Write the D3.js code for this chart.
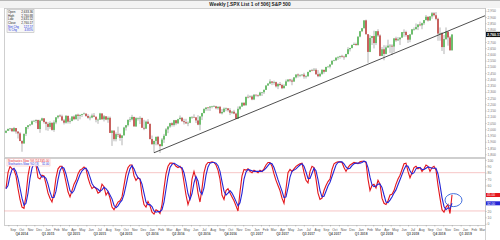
<!DOCTYPE html>
<html>
<head>
<meta charset="utf-8">
<script src="https://cdn.jsdelivr.net/npm/d3@7"></script>
<style>
body { margin: 0; background: #fff; }
svg { display: block; font-family: "Liberation Sans", Arial, sans-serif; }
</style>
</head>
<body>
<script>
// weekly S&P 500 candles, first week ends Fri 22 Aug 2014, last Fri 30 Nov 2018
const firstWeek = new Date(2014, 7, 22);
const lastWeek = new Date(2018, 10, 30);

const opens = [
  1972,1988,2003,2007,1985,2010,1982,1967,1906,1886,1964,2018,2032,2039,2064,2067,2075,2002,2070,
  2088,2058,2044,2019,2051,1995,2055,2096,2110,2104,2071,2053,2108,2061,2067,2102,2081,2117,2108,2116,2123,2126,2107,2092,2094,2110,2101,2077,2077,2127,2080,2104,2078,2092,1971,1989,1921,1961,1958,1931,1951,2014,2033,2075,2079,2099,2023,2089,2090,2091,2012,2005,
  2061,2044,1922,1880,1907,1940,1880,1865,1918,1948,1999,2022,2049,2035,2073,2048,2081,2092,2065,2057,2047,2052,2099,2099,2096,2071,2037,2103,2130,2162,2175,2174,2183,2184,2184,2169,2180,2128,2139,2165,2168,2153,2133,2141,2126,2085,2164,2182,2213,2192,2260,2258,2263,
  2239,2277,2275,2271,2295,2297,2316,2351,2367,2383,2373,2378,2344,2363,2355,2329,2349,2384,2399,2391,2382,2416,2439,2432,2433,2438,2423,2425,2459,2473,2472,2477,2441,2425,2444,2477,2461,2500,2502,2519,2549,2553,2575,2581,2588,2582,2579,2603,2642,2652,2676,2683,
  2674,2743,2786,2810,2873,2762,2620,2732,2747,2691,2786,2752,2588,2641,2604,2656,2670,2670,2663,2728,2713,2721,2735,2779,2780,2755,2718,2760,2801,2802,2819,2840,2833,2850,2875,2902,2872,2905,2930,2914,2885,2767,2768,2659,2723,2781,2736,2633
];
const highs = [
  1991,2005,2011,2009,2019,2010,1985,1977,1912,1965,2019,2034,2041,2071,2075,2079,2076,2077,2093,
  2088,2064,2057,2064,2058,2072,2097,2110,2119,2117,2083,2114,2108,2088,2107,2111,2120,2125,2117,2123,2134,2126,2121,2109,2126,2130,2101,2086,2132,2128,2114,2105,2103,2102,1993,1993,1975,2021,1968,1952,2020,2034,2080,2099,2116,2100,2097,2095,2104,2093,2076,2070,
  2081,2045,1950,1908,1940,1947,1881,1930,1963,2010,2025,2052,2056,2075,2075,2084,2111,2099,2084,2084,2063,2100,2105,2120,2096,2113,2104,2132,2169,2175,2178,2183,2188,2193,2188,2184,2187,2163,2175,2175,2169,2169,2147,2156,2133,2183,2188,2214,2214,2261,2278,2272,2273,
  2282,2279,2278,2301,2299,2319,2352,2368,2401,2386,2390,2382,2370,2379,2365,2361,2399,2400,2404,2405,2418,2440,2447,2441,2442,2453,2433,2463,2477,2484,2491,2490,2475,2454,2480,2475,2500,2508,2520,2552,2557,2575,2582,2588,2597,2590,2605,2658,2652,2679,2695,2694,
  2743,2787,2812,2873,2879,2763,2754,2748,2790,2787,2802,2761,2659,2674,2672,2718,2683,2682,2732,2742,2739,2736,2779,2801,2790,2756,2764,2804,2816,2848,2841,2863,2855,2876,2916,2903,2908,2940,2939,2940,2894,2816,2779,2756,2816,2786,2747,2761
];
const lows = [
  1969,1987,1990,1978,1978,1965,1926,1905,1820,1886,1946,2001,2025,2034,2062,2049,2002,1972,2066,
  2046,1992,1988,2004,1989,1980,2041,2085,2099,2066,2039,2045,2046,2045,2064,2073,2078,2067,2080,2099,2120,2099,2085,2072,2089,2097,2056,2044,2077,2077,2063,2073,2052,1970,1867,1904,1903,1938,1908,1872,1951,1990,2022,2058,2071,2022,2019,2070,2042,2012,1993,2005,
  2043,1918,1878,1812,1872,1872,1810,1864,1891,1947,1969,2011,2022,2022,2033,2042,2080,2060,2039,2045,2025,2049,2084,2093,2050,2033,1992,2074,2128,2148,2148,2147,2168,2178,2160,2157,2128,2119,2133,2145,2141,2114,2123,2121,2084,2085,2154,2181,2187,2191,2248,2254,2233,
  2234,2262,2258,2266,2267,2283,2315,2348,2362,2354,2357,2335,2322,2345,2322,2328,2349,2378,2378,2353,2382,2408,2415,2418,2425,2405,2407,2421,2457,2465,2468,2437,2417,2418,2436,2446,2460,2496,2488,2517,2545,2547,2557,2566,2575,2557,2576,2600,2624,2648,2676,2673,
  2673,2737,2779,2808,2759,2533,2618,2676,2648,2675,2741,2585,2586,2553,2600,2651,2612,2594,2617,2701,2707,2676,2731,2742,2742,2692,2698,2758,2790,2800,2795,2826,2802,2836,2873,2864,2871,2886,2904,2874,2710,2710,2628,2603,2716,2670,2631,2631
];
const closes = [
  1988,2003,2007,1985,2010,1982,1967,1906,1886,1964,2018,2032,2039,2064,2067,2075,2002,2070,2088,
  2058,2044,2019,2051,1995,2055,2096,2110,2104,2071,2053,2108,2061,2067,2102,2081,2117,2108,2116,2123,2126,2107,2092,2094,2110,2101,2077,2077,2127,2080,2104,2078,2092,1971,1989,1921,1961,1958,1931,1951,2014,2033,2075,2079,2099,2023,2089,2090,2091,2012,2005,2061,
  2044,1922,1880,1907,1940,1880,1865,1918,1948,1999,2022,2049,2035,2073,2048,2081,2092,2065,2057,2047,2052,2099,2099,2096,2071,2037,2103,2130,2162,2175,2174,2183,2184,2184,2169,2180,2128,2139,2165,2168,2153,2133,2141,2126,2085,2164,2182,2213,2192,2260,2258,2263,2239,
  2277,2275,2271,2295,2297,2316,2351,2367,2383,2373,2378,2344,2363,2355,2329,2349,2384,2399,2391,2382,2416,2439,2432,2433,2438,2423,2425,2459,2473,2472,2477,2441,2425,2444,2477,2461,2500,2502,2519,2549,2553,2575,2581,2588,2582,2579,2603,2642,2652,2676,2683,2674,
  2743,2786,2810,2873,2762,2620,2732,2747,2691,2786,2752,2588,2641,2604,2656,2670,2670,2663,2728,2713,2721,2735,2779,2780,2755,2718,2760,2801,2802,2819,2840,2833,2850,2875,2902,2872,2905,2930,2914,2885,2767,2768,2659,2723,2781,2736,2633,2760
];

// slow stochastic, one value per week
const stochK = [
  55,80,90,86,84,75,55,38,26,24, 45,75,92,95,97,92,72,70,76,75,
  62,48,40,34,48,72,86,90,90,80, 65,50,42,52,62,68,78,84,86,89,
  86,72,62,55,58,55,48,50,62,58, 45,50,40,26,22,28,34,36,42,60,
  78,88,92,92,75,68,72,70,45,30, 26,35,28,18,15,22,20,16,30,55,
  78,90,95,95,94,90,88,90,85,65, 45,30,40,70,82,70,48,34,55,80,
  92,96,96,97,96,92,84,70,45,38, 52,55,48,42,36,28,20,50,75,85,
  84,86,82,80,84,82,80,84,82,86, 92,96,96,90,78,68,60,52,40,32,
  55,80,85,82,86,90,92,94,95,80, 68,64,82,90,88,70,48,38,40,52,
  60,66,70,85,94,96,97,97,96,88, 82,88,92,94,96,95,94,97,98,98,
  96,70,52,60,62,56,68,62,40,32, 30,36,45,46,52,62,70,76,85,94,
  95,82,72,80,88,90,86,88,82,86, 92,90,82,88,90,84,60,40,22,18,
  26,30,16,45
];
const stochD = [
  55,60,75,85,87,82,71,56,40,29, 32,48,71,87,95,95,87,78,73,74,
  71,62,50,41,41,51,69,83,89,87, 78,65,52,48,52,61,69,77,83,86,
  87,82,73,63,58,56,54,51,53,57, 55,51,45,39,29,25,28,33,37,46,
  60,75,86,91,86,78,72,70,62,48, 34,30,30,27,20,18,19,19,22,34,
  54,74,88,93,95,93,91,89,88,80, 65,47,38,47,64,74,67,51,46,56,
  76,89,95,96,96,95,91,82,66,51, 45,48,52,48,42,35,28,33,48,70,
  81,85,84,83,82,82,82,82,82,84, 87,91,95,94,88,79,69,60,51,41,
  42,56,73,82,84,86,89,92,94,90, 81,71,71,79,87,83,69,52,42,43,
  51,59,65,74,83,92,96,97,97,94, 89,86,87,91,94,95,95,95,96,98,
  97,88,73,61,58,59,62,62,57,45, 34,33,37,42,48,53,61,69,77,85,
  91,90,83,78,80,86,88,88,85,85, 87,89,88,87,87,87,78,61,41,27,
  22,25,24,32
];

const priceTicks = d3.range(1800, 2951, 50);
const stochTicks = d3.range(0, 101, 10);
const stochLevels = [20, 80];
// support line drawn through two weekly lows
const trendFrom = {date: new Date(2016, 0, 22), price: 1812};
const trendTo = {date: new Date(2016, 10, 4), price: 2084};

const infoLabels = ["Open", "High", "Low", "Close", "Net Chg", "% Chg"];
const infoValues = ["2,633.36", "2,760.88", "2,631.52", "2,760.17", "127.57", "4.85%"];

const W = 500, H = 240;
const left = 4, right = 485;
const mainTop = 8, mainBottom = 157;
const stochTop = 158, stochBottom = 225;

const weeks = d3.timeFriday.range(firstWeek, d3.timeDay.offset(lastWeek, 1));

const x = d3.scaleTime().domain([firstWeek, lastWeek]).range([6, 452]);
const y = d3.scaleLinear().domain([1778, 2972]).range([mainBottom, mainTop]);
const yS = d3.scaleLinear().domain([-2, 103]).range([stochBottom, stochTop]);

const svg = d3.select("body").append("svg")
    .attr("width", W).attr("height", H);

svg.append("rect").attr("width", W).attr("height", H).attr("fill", "#fff");

// title bar
svg.append("rect").attr("x", 0).attr("y", 0).attr("width", W).attr("height", mainTop)
    .attr("fill", "#f3f3f3");
svg.append("line").attr("x1", 0).attr("x2", W).attr("y1", 0.5).attr("y2", 0.5)
    .attr("stroke", "#b8b8b8");
svg.append("text")
    .attr("x", 250).attr("y", 6)
    .attr("text-anchor", "middle")
    .attr("font-size", 4.8).attr("font-weight", "bold").attr("fill", "#222")
    .text("Weekly [.SPX List 1 of 506] S&P 500");

// panel frames
[[mainTop, mainBottom], [stochTop, stochBottom]].forEach(function(p) {
  svg.append("rect")
      .attr("x", left + 0.5).attr("y", p[0] + 0.5)
      .attr("width", right - left).attr("height", p[1] - p[0])
      .attr("fill", "#fff").attr("stroke", "#c4c4c4").attr("stroke-width", 0.8);
});
svg.append("line").attr("x1", right + 0.5).attr("x2", right + 0.5)
    .attr("y1", mainTop).attr("y2", H).attr("stroke", "#c4c4c4").attr("stroke-width", 0.8);

svg.append("clipPath").attr("id", "clipMain").append("rect")
    .attr("x", left).attr("y", mainTop).attr("width", right - left).attr("height", mainBottom - mainTop);

// candles
const idx = d3.range(weeks.length);
const candles = svg.append("g").attr("clip-path", "url(#clipMain)");
const up = i => closes[i] >= opens[i];

candles.selectAll(".wick").data(idx).join("line")
    .attr("class", "wick")
    .attr("x1", i => x(weeks[i])).attr("x2", i => x(weeks[i]))
    .attr("y1", i => y(highs[i])).attr("y2", i => y(lows[i]))
    .attr("stroke", "#666").attr("stroke-width", 0.5);

const bw = 1.4;
candles.selectAll(".body").data(idx).join("rect")
    .attr("class", "body")
    .attr("x", i => x(weeks[i]) - bw / 2)
    .attr("y", i => y(Math.max(opens[i], closes[i])))
    .attr("width", bw)
    .attr("height", i => Math.max(0.6, Math.abs(y(opens[i]) - y(closes[i]))))
    .attr("fill", i => up(i) ? "#3fb33f" : "#c0302c");

// trend line, extended to the right edge
const tx1 = x(trendFrom.date), ty1 = y(trendFrom.price);
const tx2 = x(trendTo.date), ty2 = y(trendTo.price);
const slope = (ty2 - ty1) / (tx2 - tx1);
candles.append("line")
    .attr("x1", tx1).attr("y1", ty1)
    .attr("x2", right).attr("y2", ty1 + slope * (right - tx1))
    .attr("stroke", "#222").attr("stroke-width", 0.8);

// price axis
const lastClose = closes[closes.length - 1];
const yAxis = d3.axisRight(y).tickValues(priceTicks.filter(v => Math.abs(y(v) - y(lastClose)) > 4))
    .tickFormat(d3.format(",")).tickSize(1.5).tickPadding(1);
const ya = svg.append("g").attr("transform", "translate(" + right + ",0)").call(yAxis);
ya.select(".domain").remove();
ya.selectAll("text").attr("font-size", 3.4).attr("fill", "#777");
ya.selectAll("line").attr("stroke", "#bbb");

svg.append("rect").attr("x", right + 1).attr("y", y(lastClose) - 2.6)
    .attr("width", 14).attr("height", 5.2).attr("fill", "#111");
svg.append("text").attr("x", right + 2).attr("y", y(lastClose) + 1.3)
    .attr("font-size", 3.6).attr("font-weight", "bold").attr("fill", "#fff")
    .text(d3.format(",.2f")(2760.17));

// data window
const info = svg.append("g").attr("transform", "translate(7,9.5)");
info.append("rect").attr("width", 27).attr("height", 23)
    .attr("fill", "#f7f7f7").attr("stroke", "#aaa").attr("stroke-width", 0.5);
infoLabels.forEach(function(lbl, i) {
  const col = i < 4 ? "#222" : "#2233dd";
  info.append("text").attr("x", 1).attr("y", 3.3 + i * 3.7)
      .attr("font-size", 3).attr("fill", col).text(lbl);
  info.append("text").attr("x", 26).attr("y", 3.3 + i * 3.7)
      .attr("text-anchor", "end").attr("font-size", 3).attr("fill", col).text(infoValues[i]);
});

// stochastic panel
const st = svg.append("g");
st.selectAll(".lvl").data(stochLevels).join("line")
    .attr("x1", left).attr("x2", right)
    .attr("y1", d => yS(d)).attr("y2", d => yS(d))
    .attr("stroke", "#f0a0a0").attr("stroke-width", 0.6);

const lineK = d3.line().x((d, i) => x(weeks[i])).y(d => yS(d));
st.append("path").datum(stochK).attr("d", lineK)
    .attr("fill", "none").attr("stroke", "#e4161c").attr("stroke-width", 1.1);
st.append("path").datum(stochD).attr("d", lineK)
    .attr("fill", "none").attr("stroke", "#2525d6").attr("stroke-width", 1.1);

// circled reading
st.append("ellipse")
    .attr("cx", x(lastWeek) + 1.5).attr("cy", yS(37))
    .attr("rx", 8.5).attr("ry", 6.5)
    .attr("fill", "none").attr("stroke", "#2f5fd8").attr("stroke-width", 0.9);

// legend of the stochastic
const lg = svg.append("g").attr("transform", "translate(7,158.8)");
lg.append("rect").attr("width", 43).attr("height", 7.2)
    .attr("fill", "#fff").attr("stroke", "#f2b0b0").attr("stroke-width", 0.5);
lg.append("text").attr("x", 1).attr("y", 3).attr("font-size", 2.8).attr("fill", "#e4161c")
    .text("Stochastics Slow %K (14,3)");
lg.append("text").attr("x", 42).attr("y", 3).attr("text-anchor", "end")
    .attr("font-size", 2.8).attr("fill", "#e4161c").text(stochK[stochK.length - 1].toFixed(2));
lg.append("text").attr("x", 1).attr("y", 6.4).attr("font-size", 2.8).attr("fill", "#2525d6")
    .text("Stochastics Slow %D (3)");
lg.append("text").attr("x", 42).attr("y", 6.4).attr("text-anchor", "end")
    .attr("font-size", 2.8).attr("fill", "#2525d6").text(stochD[stochD.length - 1].toFixed(2));

const kNow = stochK[stochK.length - 1], dNow = stochD[stochD.length - 1];
const sAxis = d3.axisRight(yS)
    .tickValues(stochTicks.filter(v => Math.abs(yS(v) - yS(kNow)) > 3.5 && Math.abs(yS(v) - yS(dNow)) > 3.5))
    .tickSize(1.5).tickPadding(1);
const sa = svg.append("g").attr("transform", "translate(" + right + ",0)").call(sAxis);
sa.select(".domain").remove();
sa.selectAll("text").attr("font-size", 3.4).attr("fill", "#777");
sa.selectAll("line").attr("stroke", "#bbb");

[[kNow, "#e4161c"], [dNow, "#2525d6"]].forEach(function(t) {
  svg.append("rect").attr("x", right + 1).attr("y", yS(t[0]) - 2)
      .attr("width", 14).attr("height", 4).attr("fill", t[1]);
  svg.append("text").attr("x", right + 2).attr("y", yS(t[0]) + 1.2)
      .attr("font-size", 3.2).attr("fill", "#fff").text(t[0].toFixed(2));
});

// time axis: months and quarters
const endDate = x.invert(right);
const months = d3.timeMonth.range(d3.timeMonth.ceil(x.invert(left)), endDate);
const xa = svg.append("g");
xa.selectAll(".mt").data(months).join("line")
    .attr("x1", d => x(d)).attr("x2", d => x(d))
    .attr("y1", stochBottom).attr("y2", stochBottom + 1.5)
    .attr("stroke", "#999").attr("stroke-width", 0.5);
xa.selectAll(".ml").data(months.filter(d => x(d3.timeDay.offset(d, 15)) < right - 2)).join("text")
    .attr("x", d => x(d3.timeDay.offset(d, 15)))
    .attr("y", 230.5)
    .attr("text-anchor", "middle").attr("font-size", 3.3).attr("fill", "#555")
    .text(d3.timeFormat("%b"));
const quarters = months.filter(d => d.getMonth() % 3 === 0);
xa.selectAll(".ql").data(quarters.filter(d => x(d) < right - 8)).join("text")
    .attr("x", d => x(d3.timeDay.offset(d, 15)))
    .attr("y", 235)
    .attr("text-anchor", "middle").attr("font-size", 3.3).attr("font-weight", "bold").attr("fill", "#555")
    .text(d => "Q" + (Math.floor(d.getMonth() / 3) + 1) + " " + d.getFullYear());
</script>
</body>
</html>
